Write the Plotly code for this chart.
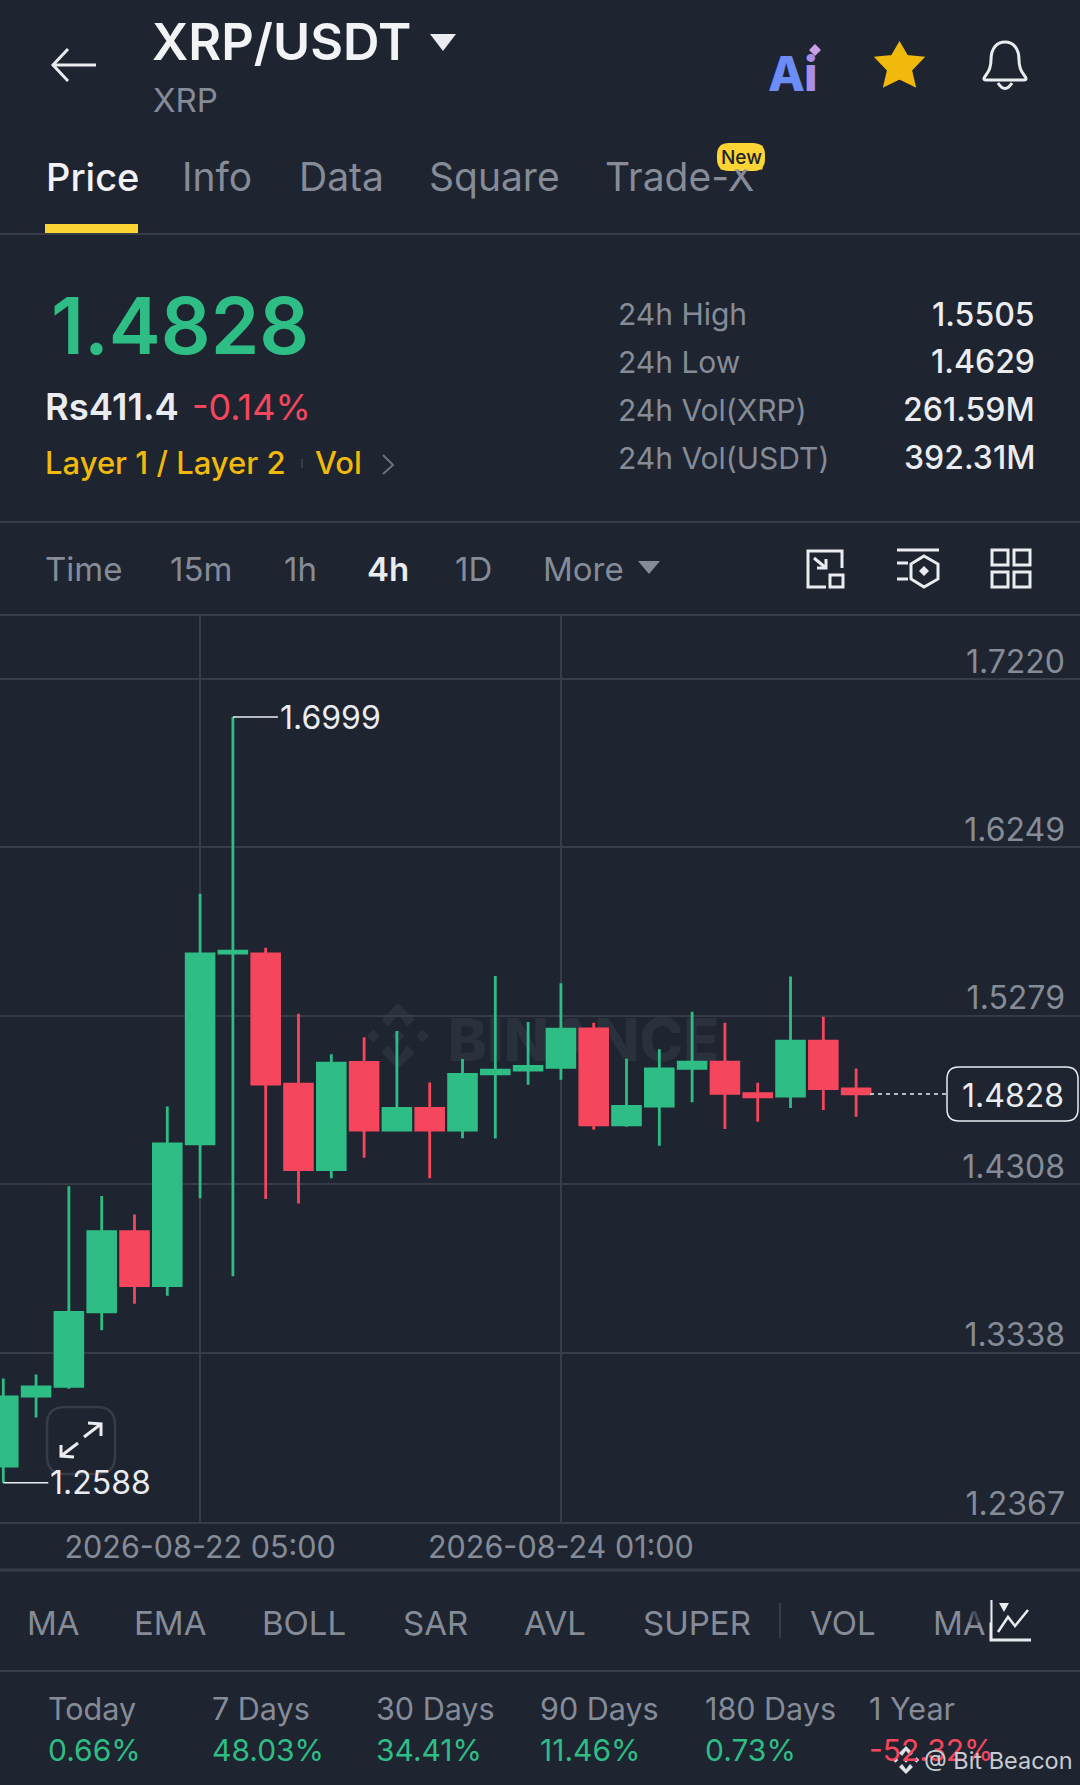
import re
import plotly.graph_objects as go

W = 1080
H = 1785
BG = "#1e2430"
GRID = "#363c48"
GRAY = "#858c98"
WHITE = "#eaecef"
GREEN = "#2ebd85"
RED = "#f6465d"
GOLD = "#f0b90b"
YELLOW = "#fcd535"
FONT = "Inter"

dates = ["2026-08-21 05:00", "2026-08-21 09:00", "2026-08-21 13:00", "2026-08-21 17:00", "2026-08-21 21:00",
	"2026-08-22 01:00", "2026-08-22 05:00", "2026-08-22 09:00", "2026-08-22 13:00", "2026-08-22 17:00",
	"2026-08-22 21:00", "2026-08-23 01:00", "2026-08-23 05:00", "2026-08-23 09:00", "2026-08-23 13:00",
	"2026-08-23 17:00", "2026-08-23 21:00", "2026-08-24 01:00", "2026-08-24 05:00", "2026-08-24 09:00",
	"2026-08-24 13:00", "2026-08-24 17:00", "2026-08-24 21:00", "2026-08-25 01:00", "2026-08-25 05:00",
	"2026-08-25 09:00", "2026-08-25 13:00"]
opens = [1.2684, 1.3087, 1.3143, 1.3572, 1.4035, 1.3724, 1.4540, 1.5640, 1.5634, 1.4884, 1.4392, 1.5010, 1.4620, 1.4745,
	1.4620, 1.4943, 1.4965, 1.4981, 1.5203, 1.4650, 1.4758, 1.4976, 1.5011, 1.4829, 1.4815, 1.5132, 1.4857]
highs = [1.3189, 1.3212, 1.4296, 1.4240, 1.4134, 1.4755, 1.5981, 1.6999, 1.5670, 1.5290, 1.5056, 1.5155, 1.5191, 1.4894,
	1.5029, 1.5507, 1.5243, 1.5465, 1.5238, 1.5031, 1.5086, 1.5302, 1.5238, 1.4892, 1.5505, 1.5273, 1.4974]
lows = [1.2588, 1.2964, 1.3130, 1.3467, 1.3619, 1.3665, 1.4227, 1.3777, 1.4223, 1.4197, 1.4342, 1.4461, 1.4620, 1.4342,
	1.4573, 1.4571, 1.4881, 1.4910, 1.4622, 1.4639, 1.4529, 1.4780, 1.4626, 1.4668, 1.4747, 1.4736, 1.4697]
closes = [1.3083, 1.3140, 1.3569, 1.4035, 1.3724, 1.4540, 1.5634, 1.5651, 1.4884, 1.4392, 1.5006, 1.4620, 1.4745, 1.4620,
	1.4940, 1.4965, 1.4987, 1.5201, 1.4650, 1.4756, 1.4972, 1.5011, 1.4831, 1.4811, 1.5132, 1.4859, 1.4828]

price_ticks = [1.7220, 1.6249, 1.5279, 1.4308, 1.3338, 1.2367]
time_ticks = ["2026-08-22 05:00", "2026-08-24 01:00"]

tabs = ["Price", "Info", "Data", "Square", "Trade-X"]
stat_labels = ["24h High", "24h Low", "24h Vol(XRP)", "24h Vol(USDT)"]
stat_values = ["1.5505", "1.4629", "261.59M", "392.31M"]
intervals = ["Time", "15m", "1h", "4h", "1D", "More"]
indicators = ["MA", "EMA", "BOLL", "SAR", "AVL", "SUPER", "VOL", "MA"]
periods = ["Today", "7 Days", "30 Days", "90 Days", "180 Days", "1 Year"]
period_changes = ["0.66%", "48.03%", "34.41%", "11.46%", "0.73%", "-52.32%"]

annotations = []
shapes = []

def px_path(path):
	# paths are written in page pixels, plotly wants paper coordinates
	return re.sub(r"(-?[\d.]+),(-?[\d.]+)", lambda m: f"{float(m[1])/W:.5f},{1-float(m[2])/H:.5f}", path)

def text(x, y, s, size, color, anchor="left", weight=400):
	annotations.append(dict(xref="paper", yref="paper", x=x/W, y=1-y/H, text=s, showarrow=False, xanchor=anchor,
		yanchor="middle", borderpad=0, borderwidth=0, font=dict(family=FONT, size=size, color=color, weight=weight)))

def line(path, color=WHITE, width=3, dash="solid", layer="above"):
	shapes.append(dict(type="path", xref="paper", yref="paper", path=px_path(path), layer=layer,
		line=dict(color=color, width=width, dash=dash)))

def fill(path, color, layer="above", edge=0):
	shapes.append(dict(type="path", xref="paper", yref="paper", path=px_path(path), fillcolor=color, layer=layer,
		line=dict(color=color, width=edge)))

def round_box(x0, y0, x1, y1, r):
	return (f"M {x0+r},{y0} L {x1-r},{y0} Q {x1},{y0} {x1},{y0+r} L {x1},{y1-r} Q {x1},{y1} {x1-r},{y1} "
		f"L {x0+r},{y1} Q {x0},{y1} {x0},{y1-r} L {x0},{y0+r} Q {x0},{y0} {x0+r},{y0} Z")

def diamond(x, y, r):
	return f"M {x},{y-r} L {x+r},{y} L {x},{y+r} L {x-r},{y} Z"

def logo(x, y, r, color, layer):
	a, b, c = r, 0.5*r, 0.28*r
	fill(f"M {x},{y-a} L {x+b},{y-b} L {x+c},{y-c} L {x},{y-b-c+c*0.4} L {x-c},{y-c} L {x-b},{y-b} Z", color, layer)
	fill(f"M {x},{y+a} L {x+b},{y+b} L {x+c},{y+c} L {x},{y+b+c-c*0.4} L {x-c},{y+c} L {x-b},{y+b} Z", color, layer)
	fill(diamond(x, y, 0.2*r), color, layer)
	fill(diamond(x-0.75*r, y, 0.2*r), color, layer)
	fill(diamond(x+0.75*r, y, 0.2*r), color, layer)

fig = go.Figure()
fig.add_trace(go.Candlestick(x=dates, open=opens, high=highs, low=lows, close=closes, showlegend=False,
	increasing=dict(line=dict(color=GREEN, width=2.8), fillcolor=GREEN),
	decreasing=dict(line=dict(color=RED, width=2.8), fillcolor=RED)))

# header
line("M 53,65 L 96,65")
line("M 68,49 L 53,65 L 68,81")
text(152, 41, "XRP/USDT", 50.5, "#f2f3f5", weight=600)
fill("M 430,34 L 456,34 L 443,51 Z", WHITE)
text(153, 100, "XRP", 33, GRAY)
text(768, 74, "A", 48, "#6b8df5", weight=800)
text(804, 74, "i", 48, "#a98ee8", weight=800)
fill(diamond(815, 50, 6), "#c9a0e8")
fill("M 899.5,44 L 906.8,56.5 L 922,58 L 910.5,70 L 914,85 L 899.5,78 L 885,85 L 888.5,70 L 877,58 L 892.2,56.5 Z", GOLD, edge=3)
line("M 986,75 C 990,70 991,66 991,60 C 991,48 997,42 1005,42 C 1013,42 1019,48 1019,60 C 1019,66 1020,70 1024,75 "
	"Q 1028,80 1024,80 L 986,80 Q 982,80 986,75 Z")
line("M 998,83 Q 1005,94 1012,83")

for name, x in zip(tabs, [46, 182, 299, 429, 605]):
	text(x, 177, name, 38 if name == "Price" else 39, "#f2f3f5" if name == "Price" else GRAY, weight=500 if name == "Price" else 400)
fill("M 45,224 L 138,224 L 138,233 L 45,233 Z", YELLOW)
fill(round_box(717, 143, 765, 171, 12), YELLOW)
annotations.append(dict(xref="paper", yref="paper", x=741/W, y=1-157/H, text="New", showarrow=False, bgcolor=YELLOW,
	xanchor="center", yanchor="middle", borderpad=0, font=dict(family=FONT, size=19, color="#1e2329", weight=500)))
line("M 0,234 L 1080,234", GRID, 2)

# price block
text(51, 325, closes[-1], 78, GREEN, weight=600)
text(45, 407, "Rs411.4", 36.5, WHITE, weight=600)
text(192, 407, "-0.14%", 36, RED)
text(45, 463, "Layer 1 / Layer 2", 31, GOLD, weight=500)
line("M 302,459 L 302,468", GRID, 2)
text(315, 463, "Vol", 31, GOLD, weight=500)
line("M 383,455 L 393,465 L 383,474", "#6c727d", 2)
for label, value, y in zip(stat_labels, stat_values, [314, 362, 410, 458]):
	text(618, y, label, 30, GRAY)
	text(1035, y, value, 32, WHITE, "right", 500)
line("M 0,522 L 1080,522", GRID, 2)

# interval row
for name, x in zip(intervals, [45, 170, 284, 367, 455, 543]):
	text(x, 569, name, 33, WHITE if name == "4h" else GRAY, weight=600 if name == "4h" else 400)
fill("M 638,561 L 660,561 L 649,574 Z", GRAY)
line("M 826,587 L 808,587 L 808,551 L 842,551 L 842,568")
line("M 830,575 L 843,575 L 843,587 L 830,587 Z")
line("M 814,558 L 826,568")
line("M 826,559 L 826,568 L 817,568")
line("M 897,550 L 939,550")
line("M 897,563 L 908,563")
line("M 897,579 L 908,579")
line("M 924,556 L 938,564 L 938,579 L 924,587 L 911,579 L 911,564 Z")
fill(diamond(924, 571, 5), WHITE)
for x0, y0 in [(992, 550), (1014, 550), (992, 572), (1014, 572)]:
	line(f"M {x0},{y0} L {x0+16},{y0} L {x0+16},{y0+15} L {x0},{y0+15} Z")
line("M 0,615 L 1080,615", GRID, 2)

# watermark goes under the candles
logo(398, 1036, 33, "#2a303c", "below")
shapes.append(dict(type="rect", xref="paper", yref="paper", x0=445/W, x1=722/W, y0=1-1060/H, y1=1-1014/H, layer="below",
	line=dict(width=0), label=dict(text="BINANCE", font=dict(family=FONT, size=59, color="#2a303c", weight=800),
	textposition="middle center")))

# candle callouts
annotations.append(dict(x=dates[7], y=max(highs), text=f"{max(highs):.4f}", xref="x", yref="y", xanchor="left", ax=45, ay=0,
	axref="pixel", ayref="pixel", showarrow=True, arrowhead=0, arrowwidth=1.5, arrowcolor=WHITE, standoff=0,
	font=dict(family=FONT, size=32, color=WHITE)))
annotations.append(dict(x=dates[0], y=min(lows), text=f"{min(lows):.4f}", xref="x", yref="y", xanchor="left", ax=45, ay=0,
	axref="pixel", ayref="pixel", showarrow=True, arrowhead=0, arrowwidth=1.5, arrowcolor=WHITE, standoff=0,
	font=dict(family=FONT, size=32, color=WHITE)))

# last price marker
shapes.append(dict(type="line", xref="paper", yref="y", x0=870/W, x1=947/W, y0=closes[-1], y1=closes[-1],
	line=dict(color=WHITE, width=1.5, dash="4px,4px")))
fill(round_box(947, 1067, 1078, 1121, 12), BG)
line(round_box(947, 1067, 1078, 1121, 12), WHITE, 1.5)
text(1064, 1095, f"{closes[-1]:.4f}", 32, WHITE, "right")

# expand button
fill(round_box(47, 1407, 115, 1474, 18), BG)
line(round_box(47, 1407, 115, 1474, 18), "#363c48", 2.5)
line("M 61,1456 L 78,1443")
line("M 61,1445 L 61,1456 L 74,1457")
line("M 84,1437 L 101,1424")
line("M 88,1423 L 101,1424 L 101,1436")

# indicator row
line("M 0,1570 L 1080,1570", GRID, 3)
for name, x in zip(indicators, [27, 134, 262, 403, 524, 643, 810, 933]):
	text(x, 1623, name, 33, GRAY)
line("M 780,1603 L 780,1638", GRID, 2)
for x0, w0, a in [(962, 10, 0.3), (972, 10, 0.6), (982, 7, 0.9)]:
	annotations.append(dict(xref="paper", yref="paper", x=x0/W, y=1-1623/H, text=" ", showarrow=False, xanchor="left",
		width=w0, height=44, bgcolor=f"rgba(30,36,48,{a})", borderpad=0))
line("M 991,1600 L 991,1640 L 1031,1640")
line("M 998,1632 L 1008,1617 L 1015,1626 L 1028,1610", width=2.5)
fill("M 999,1603 L 1009,1603 L 1004,1612 Z", WHITE)
line("M 0,1671 L 1080,1671", GRID, 2)

# period row
for name, value, x in zip(periods, period_changes, [48, 212, 376, 540, 705, 869]):
	text(x, 1708, name, 30.5, GRAY)
	text(x, 1750, value, 30, RED if value.startswith("-") else GREEN)
logo(906, 1760, 14, "#dfe1e5", "above")
text(924, 1760, "@ Bit Beacon", 23.5, "#c8ccd2")

fig.update_layout(width=W, height=H, margin=dict(t=0, l=0, b=0, r=0), autosize=False, paper_bgcolor=BG, plot_bgcolor=BG,
	boxgap=0.08, boxgroupgap=0.08, annotations=annotations, shapes=shapes, showlegend=False, dragmode=False,
	font=dict(family=FONT, color=GRAY))
fig.update_xaxes(type="date", range=["2026-08-21 04:36", "2026-08-26 16:18"], rangeslider_visible=False, domain=[0, 1],
	tickmode="array", tickvals=time_ticks, tickformat="%Y-%m-%d %H:%M", tickfont=dict(family=FONT, size=30.5, color=GRAY),
	showgrid=True, gridcolor=GRID, gridwidth=1.5, showline=True, linecolor=GRID, linewidth=2, zeroline=False, ticks="", ticklabelstandoff=-3)
fig.update_yaxes(range=[1.2362, 1.7587], domain=[1-1522/H, 1-615/H], side="right", tickmode="array", tickvals=price_ticks,
	ticktext=[f"{p:.4f}" for p in price_ticks], ticklabelposition="inside top", ticklabelstandoff=12, ticklabelshift=5,
	ticklabeloverflow="allow", tickfont=dict(family=FONT, size=32, color=GRAY), showgrid=True, gridcolor=GRID, gridwidth=1.5,
	zeroline=False, ticks="")

fig.write_html("out.html", config=dict(displayModeBar=False), post_script="document.body.style.margin='0';document.documentElement.style.overflow='hidden';")
